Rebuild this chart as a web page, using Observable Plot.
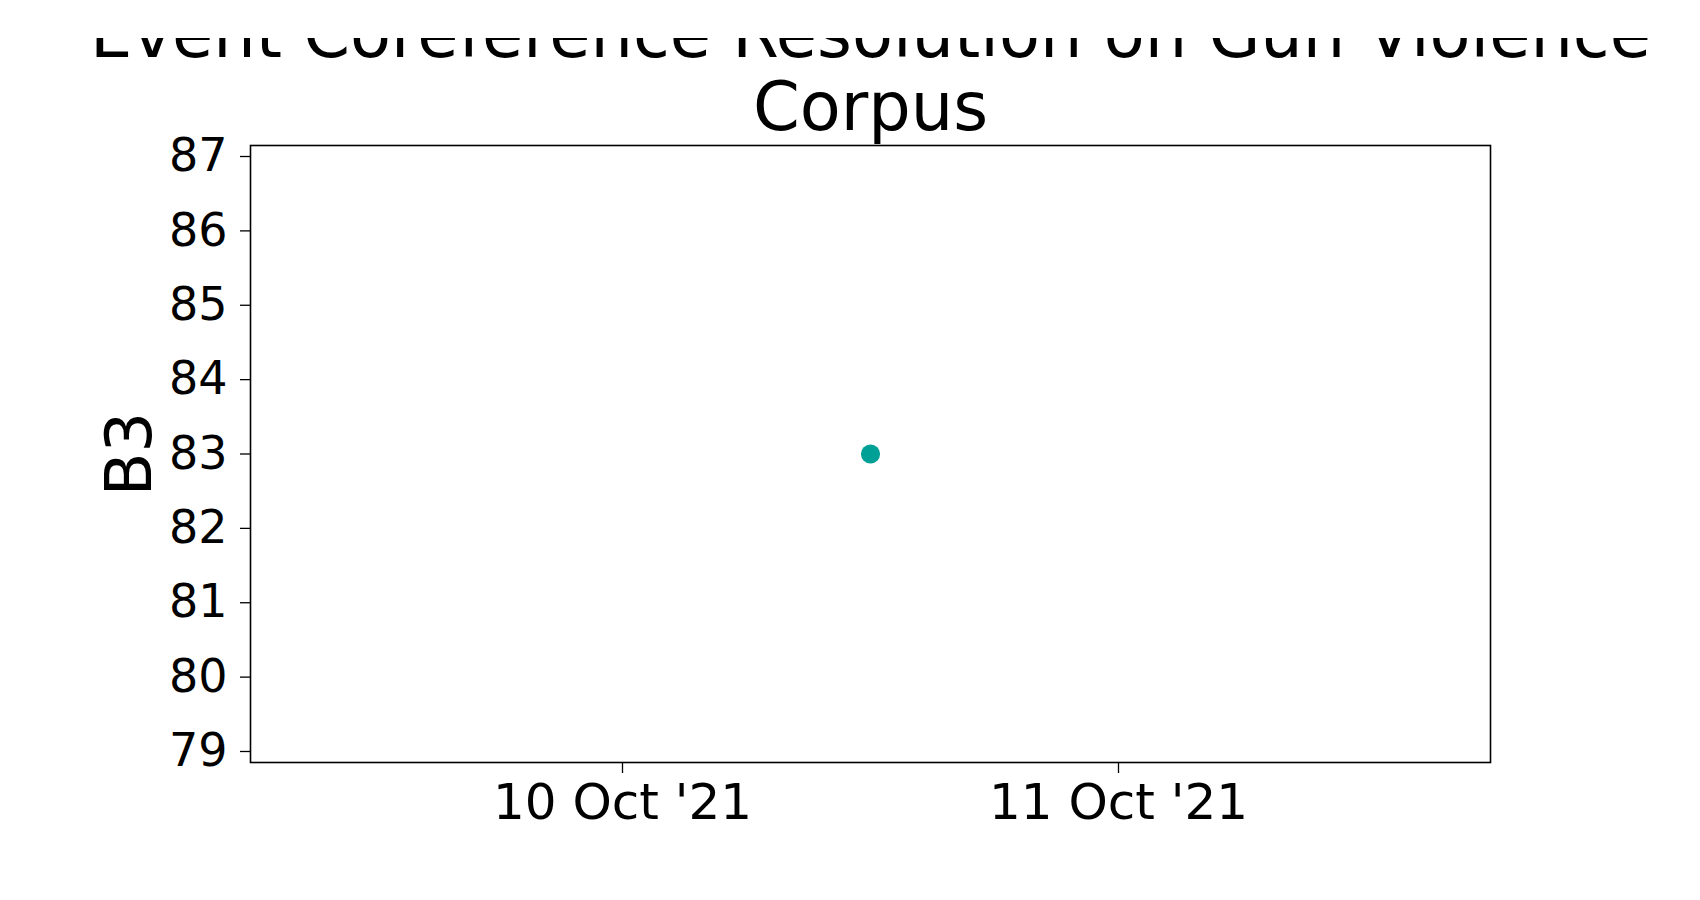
<!DOCTYPE html>
<html>
<head>
<meta charset="utf-8">
<script src="https://cdn.jsdelivr.net/npm/d3@7"></script>
<script src="https://cdn.jsdelivr.net/npm/@observablehq/plot@0.6"></script>
<style>
  html, body { margin: 0; padding: 0; background: #fff; overflow: hidden; }
  #wrap { position: relative; width: 1700px; height: 900px; }
  #chart svg { display: block; }
  #topband { position: absolute; left: 0; top: 0; width: 1700px; height: 38px; background: #fff; }
</style>
</head>
<body>
<div id="wrap">
  <div id="chart"></div>
  <div id="topband"></div>
</div>
<script>
// ---- data ----
const dates = ["2021-10-10T12:00:00Z"];
const b3Values = [83];
const xTickDates = ["2021-10-10T00:00:00Z", "2021-10-11T00:00:00Z"];
const yTicks = [79, 80, 81, 82, 83, 84, 85, 86, 87];
const xDomainDates = ["2021-10-09T06:00:00Z", "2021-10-11T18:00:00Z"];
const yDomain = [78.852, 87.148];
const titleLines = ["Event Coreference Resolution on Gun Violence", "Corpus"];
const yLabel = "B3";

const points = dates.map((d, i) => ({date: new Date(d), value: b3Values[i]}));
const xTicks = xTickDates.map(d => new Date(d));

const chart = Plot.plot({
  width: 1700,
  height: 900,
  marginLeft: 250,
  marginRight: 210,
  marginTop: 145,
  marginBottom: 138,
  style: {background: "#fff", color: "black", fontFamily: "'DejaVu Sans', sans-serif"},
  x: {type: "utc", domain: xDomainDates.map(d => new Date(d)), label: null},
  y: {domain: yDomain, label: null},
  marks: [
    Plot.frame({stroke: "black", strokeWidth: 1.6}),
    Plot.axisY(yTicks, {anchor: "left", tickSize: 10, tickPadding: 13, fontSize: 46, label: null, strokeWidth: 1.3,
      tickFormat: d3.format("d")}),
    Plot.axisX(xTicks, {anchor: "bottom", tickSize: 11, tickPadding: 10, fontSize: 50, label: null, strokeWidth: 1.3,
      tickFormat: d3.utcFormat("%-d %b '%y")}),
    Plot.dot(points, {x: "date", y: "value", r: 9.6, fill: "#00a096", stroke: null}),
    Plot.text([titleLines.join("\n")], {text: d => d, frameAnchor: "top", lineAnchor: "bottom", lineHeight: 1.075, dy: -16, fontSize: 67, fill: "black"}),
    Plot.text([yLabel], {text: d => d, frameAnchor: "left", textAnchor: "middle", lineAnchor: "middle", rotate: -90, dx: -120, fontSize: 64, fill: "black"})
  ]
});
document.getElementById("chart").appendChild(chart);
</script>
</body>
</html>
